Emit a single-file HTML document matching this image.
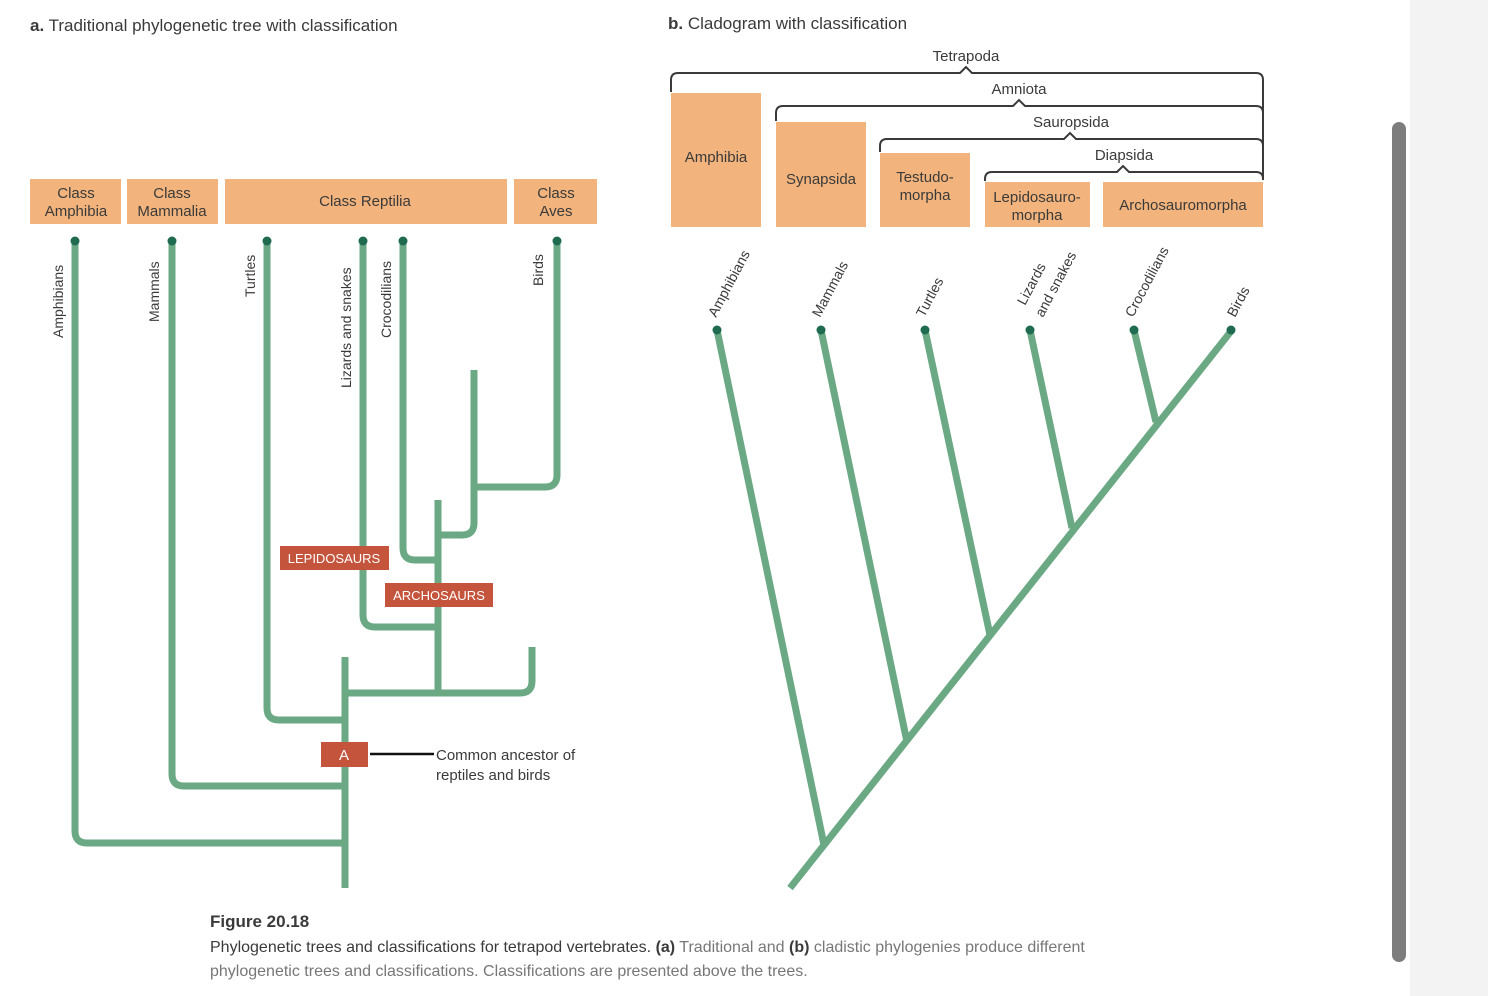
<!DOCTYPE html>
<html><head><meta charset="utf-8"><style>
body{margin:0;background:#fff;}
svg{display:block;font-family:"Liberation Sans",sans-serif;}
</style></head><body>
<svg width="1488" height="996" viewBox="0 0 1488 996">
<rect x="1410" y="0" width="78" height="996" fill="#f3f3f4"/>
<rect x="1392" y="122" width="14" height="840" rx="7" fill="#7d7d7d"/>
<g fill="#3a3a3a" font-size="17">
<text x="30" y="31"><tspan font-weight="bold">a.</tspan> Traditional phylogenetic tree with classification</text>
<text x="668" y="29"><tspan font-weight="bold">b.</tspan> Cladogram with classification</text>
</g>
<!-- left boxes -->
<g fill="#f2b47c">
<rect x="30" y="179" width="91" height="45"/>
<rect x="127" y="179" width="91" height="45"/>
<rect x="225" y="179" width="282" height="45"/>
<rect x="514" y="179" width="83" height="45"/>
</g>
<g fill="#3a3a3a" font-size="15" text-anchor="middle">
<text x="76" y="198">Class</text><text x="76" y="216">Amphibia</text>
<text x="172" y="198">Class</text><text x="172" y="216">Mammalia</text>
<text x="365" y="206">Class Reptilia</text>
<text x="556" y="198">Class</text><text x="556" y="216">Aves</text>
</g>
<!-- left tree -->
<g fill="none" stroke="#6aa983" stroke-width="7" stroke-linejoin="round">
<path d="M75 241 V831 Q75 843 87 843 H345"/>
<path d="M172 241 V774 Q172 786 184 786 H345"/>
<path d="M267 241 V708 Q267 720 279 720 H345"/>
<path d="M345 657 V888"/>
<path d="M345 693 H520 Q532 693 532 681 V647"/>
<path d="M438 500 V693"/>
<path d="M363 241 V615 Q363 627 375 627 H438"/>
<path d="M403 241 V548 Q403 560 415 560 H438"/>
<path d="M474 370 V523 Q474 535 462 535 H438"/>
<path d="M557 241 V475 Q557 487 545 487 H474"/>
</g>
<g fill="#1f6b50">
<circle cx="75" cy="241" r="4.5"/><circle cx="172" cy="241" r="4.5"/><circle cx="267" cy="241" r="4.5"/>
<circle cx="363" cy="241" r="4.5"/><circle cx="403" cy="241" r="4.5"/><circle cx="557" cy="241" r="4.5"/>
</g>
<g fill="#3a3a3a" font-size="14">
<text transform="translate(63,338) rotate(-90)">Amphibians</text>
<text transform="translate(159,322) rotate(-90)">Mammals</text>
<text transform="translate(255,297) rotate(-90)">Turtles</text>
<text transform="translate(351,388) rotate(-90)">Lizards and snakes</text>
<text transform="translate(391,338) rotate(-90)">Crocodilians</text>
<text transform="translate(543,286) rotate(-90)">Birds</text>
</g>
<g fill="#c4543c">
<rect x="280" y="546" width="109" height="24"/>
<rect x="385" y="583" width="108" height="24"/>
<rect x="321" y="742" width="47" height="25"/>
</g>
<g fill="#fff" font-size="13" text-anchor="middle">
<text x="334" y="563">LEPIDOSAURS</text>
<text x="439" y="600">ARCHOSAURS</text>
<text x="344" y="760" font-size="15">A</text>
</g>
<line x1="370" y1="754" x2="434" y2="754" stroke="#111" stroke-width="2.5"/>
<g fill="#3a3a3a" font-size="15">
<text x="436" y="760">Common ancestor of</text>
<text x="436" y="780">reptiles and birds</text>
</g>
<!-- right boxes -->
<g fill="#f2b47c">
<rect x="671" y="93" width="90" height="134"/>
<rect x="776" y="122" width="90" height="105"/>
<rect x="880" y="153" width="90" height="74"/>
<rect x="985" y="182" width="105" height="45"/>
<rect x="1103" y="182" width="160" height="45"/>
</g>
<g fill="none" stroke="#3a3a3a" stroke-width="2">
<path d="M671 92 V80 Q671 73 678 73 H960 L966 67 L972 73 H1256 Q1263 73 1263 80 V180"/>
<path d="M776 121 V113 Q776 106 783 106 H1013 L1019 100 L1025 106 H1256 Q1263 106 1263 113"/>
<path d="M880 152 V146 Q880 139 887 139 H1064 L1070 133 L1076 139 H1256 Q1263 139 1263 146"/>
<path d="M985 181 V179 Q985 172 992 172 H1117 L1123 166 L1129 172 H1256 Q1263 172 1263 179"/>
</g>
<g fill="#3a3a3a" font-size="15" text-anchor="middle">
<text x="966" y="61">Tetrapoda</text>
<text x="1019" y="94">Amniota</text>
<text x="1071" y="127">Sauropsida</text>
<text x="1124" y="160">Diapsida</text>
<text x="716" y="162">Amphibia</text>
<text x="821" y="184">Synapsida</text>
<text x="925" y="182">Testudo-</text><text x="925" y="200">morpha</text>
<text x="1037" y="202">Lepidosauro-</text><text x="1037" y="220">morpha</text>
<text x="1183" y="210">Archosauromorpha</text>
</g>
<!-- cladogram -->
<g stroke="#6aa983" stroke-width="7" stroke-linecap="butt" fill="none">
<line x1="790" y1="888" x2="1232" y2="330"/>
<line x1="717" y1="330" x2="824" y2="845"/>
<line x1="821" y1="330" x2="907" y2="742"/>
<line x1="925" y1="330" x2="990" y2="635"/>
<line x1="1030" y1="330" x2="1072" y2="528"/>
<line x1="1134" y1="330" x2="1156" y2="422"/>
</g>
<g fill="#1f6b50">
<circle cx="717" cy="330" r="4.5"/><circle cx="821" cy="330" r="4.5"/><circle cx="925" cy="330" r="4.5"/>
<circle cx="1030" cy="330" r="4.5"/><circle cx="1134" cy="330" r="4.5"/><circle cx="1231" cy="330" r="4.5"/>
</g>
<g fill="#3a3a3a" font-size="14">
<text transform="translate(716,318) rotate(-62)">Amphibians</text>
<text transform="translate(820,318) rotate(-62)">Mammals</text>
<text transform="translate(924,318) rotate(-62)">Turtles</text>
<text transform="translate(1025,306) rotate(-62)">Lizards</text>
<text transform="translate(1043,318) rotate(-62)">and snakes</text>
<text transform="translate(1133,318) rotate(-62)">Crocodilians</text>
<text transform="translate(1235,318) rotate(-62)">Birds</text>
</g>
<!-- caption -->
<g fill="#3a3a3a" font-size="16">
<text x="210" y="927" font-weight="bold" font-size="17">Figure 20.18</text>
<text x="210" y="952">Phylogenetic trees and classifications for tetrapod vertebrates. <tspan font-weight="bold">(a)</tspan><tspan fill="#777"> Traditional and </tspan><tspan font-weight="bold">(b)</tspan><tspan fill="#777"> cladistic phylogenies produce different</tspan></text>
<text x="210" y="976" fill="#777">phylogenetic trees and classifications. Classifications are presented above the trees.</text>
</g>
</svg>
</body></html>
